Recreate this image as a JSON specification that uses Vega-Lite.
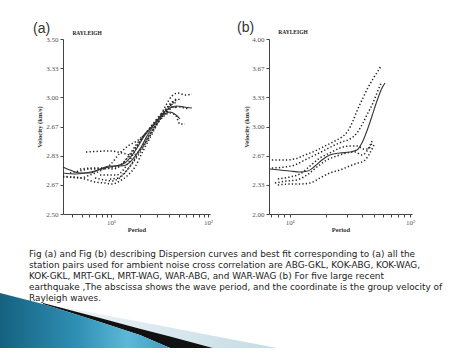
{
  "$schema": "https://vega.github.io/schema/vega-lite/v6.json",
  "background": "white",
  "padding": {"left": 0, "top": 21, "right": 0, "bottom": 0},
  "config": {
    "view": {"stroke": null},
    "axis": {
      "grid": false,
      "domainColor": "#444",
      "tickColor": "#444",
      "labelColor": "#555",
      "labelFont": "Liberation Serif",
      "labelFontSize": 7,
      "titleFont": "Liberation Serif",
      "titleFontSize": 6.5,
      "titleFontWeight": "bold",
      "titleColor": "#333",
      "tickSize": 3,
      "labelPadding": 2,
      "labelOverlap": false
    }
  },
  "datasets": {
    "a": [
      {"c":"D1","s":"obs","p":5.53,"v":2.854},{"c":"D1","s":"obs","p":9.76,"v":2.86},{"c":"D1","s":"obs","p":13.0,"v":2.849},{"c":"D1","s":"obs","p":16.5,"v":2.837},{"c":"D1","s":"obs","p":20.9,"v":2.877},{"c":"D1","s":"obs","p":25.2,"v":2.946},{"c":"D1","s":"obs","p":30.5,"v":3.031},{"c":"D1","s":"obs","p":36.0,"v":3.111},{"c":"D1","s":"obs","p":42.5,"v":3.174},{"c":"D1","s":"obs","p":49.1,"v":3.191},{"c":"D1","s":"obs","p":57.9,"v":3.18},{"c":"D1","s":"obs","p":68.4,"v":3.186},
      {"c":"D2","s":"obs","p":3.2,"v":2.711},{"c":"D2","s":"obs","p":4.25,"v":2.711},{"c":"D2","s":"obs","p":5.39,"v":2.7},{"c":"D2","s":"obs","p":6.84,"v":2.683},{"c":"D2","s":"obs","p":8.67,"v":2.677},{"c":"D2","s":"obs","p":10.24,"v":2.671},{"c":"D2","s":"obs","p":12.4,"v":2.689},{"c":"D2","s":"obs","p":15.0,"v":2.723},{"c":"D2","s":"obs","p":17.7,"v":2.769},{"c":"D2","s":"obs","p":20.9,"v":2.849},{"c":"D2","s":"obs","p":25.2,"v":2.934},{"c":"D2","s":"obs","p":30.5,"v":3.02},{"c":"D2","s":"obs","p":36.0,"v":3.089},{"c":"D2","s":"obs","p":40.6,"v":3.129},{"c":"D2","s":"obs","p":45.7,"v":3.151},
      {"c":"D3","s":"obs","p":4.79,"v":2.757},{"c":"D3","s":"obs","p":6.84,"v":2.763},{"c":"D3","s":"obs","p":8.67,"v":2.763},{"c":"D3","s":"obs","p":10.24,"v":2.757},{"c":"D3","s":"obs","p":12.4,"v":2.774},{"c":"D3","s":"obs","p":15.0,"v":2.826},{"c":"D3","s":"obs","p":18.1,"v":2.894},{"c":"D3","s":"obs","p":22.4,"v":2.957},{"c":"D3","s":"obs","p":26.4,"v":2.997},{"c":"D3","s":"obs","p":32.0,"v":3.049},{"c":"D3","s":"obs","p":37.8,"v":3.089},{"c":"D3","s":"obs","p":42.5,"v":3.111},{"c":"D3","s":"obs","p":49.1,"v":3.106},
      {"c":"D4","s":"obs","p":3.2,"v":2.717},{"c":"D4","s":"obs","p":3.78,"v":2.711},{"c":"D4","s":"obs","p":4.79,"v":2.706},{"c":"D4","s":"obs","p":6.08,"v":2.723},{"c":"D4","s":"obs","p":7.7,"v":2.746},{"c":"D4","s":"obs","p":9.76,"v":2.78},{"c":"D4","s":"obs","p":12.4,"v":2.849},{"c":"D4","s":"obs","p":15.0,"v":2.889},{"c":"D4","s":"obs","p":18.5,"v":2.917},{"c":"D4","s":"obs","p":23.0,"v":2.963},{"c":"D4","s":"obs","p":28.4,"v":3.02},{"c":"D4","s":"obs","p":34.4,"v":3.071},{"c":"D4","s":"obs","p":40.6,"v":3.117},{"c":"D4","s":"obs","p":47.9,"v":3.14},
      {"c":"D5","s":"obs","p":6.84,"v":2.706},{"c":"D5","s":"obs","p":8.67,"v":2.694},{"c":"D5","s":"obs","p":10.24,"v":2.689},{"c":"D5","s":"obs","p":11.8,"v":2.7},{"c":"D5","s":"obs","p":13.9,"v":2.734},{"c":"D5","s":"obs","p":16.5,"v":2.791},{"c":"D5","s":"obs","p":19.9,"v":2.866},{"c":"D5","s":"obs","p":24.1,"v":2.94},{"c":"D5","s":"obs","p":29.1,"v":3.009},{"c":"D5","s":"obs","p":34.4,"v":3.054},{"c":"D5","s":"obs","p":40.6,"v":3.077},{"c":"D5","s":"obs","p":46.8,"v":3.06},{"c":"D5","s":"obs","p":51.4,"v":3.014},{"c":"D5","s":"obs","p":57.9,"v":3.014},
      {"c":"D6","s":"obs","p":7.7,"v":2.723},{"c":"D6","s":"obs","p":9.76,"v":2.723},{"c":"D6","s":"obs","p":11.5,"v":2.723},{"c":"D6","s":"obs","p":13.6,"v":2.757},{"c":"D6","s":"obs","p":16.1,"v":2.82},{"c":"D6","s":"obs","p":19.0,"v":2.894},{"c":"D6","s":"obs","p":23.0,"v":2.963},{"c":"D6","s":"obs","p":27.7,"v":3.02},{"c":"D6","s":"obs","p":32.8,"v":3.06},{"c":"D6","s":"obs","p":38.7,"v":3.1},{"c":"D6","s":"obs","p":45.7,"v":3.146},{"c":"D6","s":"obs","p":51.4,"v":3.157},
      {"c":"D7","s":"obs","p":9.76,"v":2.7},{"c":"D7","s":"obs","p":11.8,"v":2.706},{"c":"D7","s":"obs","p":14.3,"v":2.746},{"c":"D7","s":"obs","p":17.3,"v":2.803},{"c":"D7","s":"obs","p":20.9,"v":2.871},{"c":"D7","s":"obs","p":25.2,"v":2.957},{"c":"D7","s":"obs","p":30.5,"v":3.026},{"c":"D7","s":"obs","p":36.9,"v":3.077},{"c":"D7","s":"obs","p":44.6,"v":3.111},{"c":"D7","s":"obs","p":51.4,"v":3.111},{"c":"D7","s":"obs","p":62.2,"v":3.1},
      {"c":"D8","s":"obs","p":3.78,"v":2.734},{"c":"D8","s":"obs","p":4.79,"v":2.746},{"c":"D8","s":"obs","p":6.08,"v":2.757},{"c":"D8","s":"obs","p":7.7,"v":2.757},{"c":"D8","s":"obs","p":9.76,"v":2.763},{"c":"D8","s":"obs","p":12.4,"v":2.78},{"c":"D8","s":"obs","p":15.7,"v":2.837},{"c":"D8","s":"obs","p":19.9,"v":2.917},{"c":"D8","s":"obs","p":25.2,"v":2.991},{"c":"D8","s":"obs","p":32.0,"v":3.066},{"c":"D8","s":"obs","p":40.6,"v":3.123},{"c":"D8","s":"obs","p":47.9,"v":3.163},
      {"c":"S1","s":"fit","p":3.2,"v":2.769},{"c":"S1","s":"fit","p":3.78,"v":2.751},{"c":"S1","s":"fit","p":4.79,"v":2.734},{"c":"S1","s":"fit","p":6.08,"v":2.734},{"c":"S1","s":"fit","p":7.7,"v":2.757},{"c":"S1","s":"fit","p":9.76,"v":2.774},{"c":"S1","s":"fit","p":12.4,"v":2.774},{"c":"S1","s":"fit","p":14.3,"v":2.78},{"c":"S1","s":"fit","p":16.5,"v":2.809},{"c":"S1","s":"fit","p":19.9,"v":2.871},{"c":"S1","s":"fit","p":24.1,"v":2.957},{"c":"S1","s":"fit","p":29.1,"v":3.026},{"c":"S1","s":"fit","p":34.4,"v":3.077},{"c":"S1","s":"fit","p":40.6,"v":3.106},{"c":"S1","s":"fit","p":47.9,"v":3.117},{"c":"S1","s":"fit","p":56.6,"v":3.111},{"c":"S1","s":"fit","p":68.4,"v":3.106},
      {"c":"S2","s":"fit","p":3.2,"v":2.734},{"c":"S2","s":"fit","p":4.25,"v":2.729},{"c":"S2","s":"fit","p":5.39,"v":2.734},{"c":"S2","s":"fit","p":6.84,"v":2.746},{"c":"S2","s":"fit","p":8.67,"v":2.763},{"c":"S2","s":"fit","p":11.0,"v":2.774},{"c":"S2","s":"fit","p":13.9,"v":2.791},{"c":"S2","s":"fit","p":17.7,"v":2.86},{"c":"S2","s":"fit","p":22.4,"v":2.951},{"c":"S2","s":"fit","p":28.4,"v":3.02},{"c":"S2","s":"fit","p":34.4,"v":3.066},{"c":"S2","s":"fit","p":40.6,"v":3.083},{"c":"S2","s":"fit","p":46.8,"v":3.066},{"c":"S2","s":"fit","p":51.4,"v":3.043},
      {"c":"label","s":"label","p":4.0,"v":3.535,"t":"RAYLEIGH"}
    ],
    "b": [
      {"c":"D1","s":"obs","p":7.08,"v":2.617},{"c":"D1","s":"obs","p":9.08,"v":2.617},{"c":"D1","s":"obs","p":11.0,"v":2.629},{"c":"D1","s":"obs","p":13.3,"v":2.674},{"c":"D1","s":"obs","p":16.2,"v":2.72},{"c":"D1","s":"obs","p":19.6,"v":2.777},{"c":"D1","s":"obs","p":23.7,"v":2.834},{"c":"D1","s":"obs","p":27.1,"v":2.88},{"c":"D1","s":"obs","p":30.4,"v":2.949},{"c":"D1","s":"obs","p":33.5,"v":3.063},{"c":"D1","s":"obs","p":36.8,"v":3.2},{"c":"D1","s":"obs","p":40.6,"v":3.326},{"c":"D1","s":"obs","p":44.6,"v":3.44},{"c":"D1","s":"obs","p":49.2,"v":3.543},{"c":"D1","s":"obs","p":54.1,"v":3.634},{"c":"D1","s":"obs","p":57.4,"v":3.691},
      {"c":"D2","s":"obs","p":7.08,"v":2.526},{"c":"D2","s":"obs","p":9.08,"v":2.537},{"c":"D2","s":"obs","p":11.0,"v":2.56},{"c":"D2","s":"obs","p":13.3,"v":2.617},{"c":"D2","s":"obs","p":16.2,"v":2.674},{"c":"D2","s":"obs","p":19.6,"v":2.731},{"c":"D2","s":"obs","p":23.7,"v":2.789},{"c":"D2","s":"obs","p":27.1,"v":2.823},{"c":"D2","s":"obs","p":31.6,"v":2.857},{"c":"D2","s":"obs","p":36.2,"v":2.926},{"c":"D2","s":"obs","p":40.6,"v":3.04},{"c":"D2","s":"obs","p":44.6,"v":3.154},{"c":"D2","s":"obs","p":49.2,"v":3.269},{"c":"D2","s":"obs","p":53.1,"v":3.383},{"c":"D2","s":"obs","p":57.4,"v":3.497},
      {"c":"D3","s":"obs","p":7.94,"v":2.4},{"c":"D3","s":"obs","p":10.0,"v":2.423},{"c":"D3","s":"obs","p":12.1,"v":2.457},{"c":"D3","s":"obs","p":14.7,"v":2.549},{"c":"D3","s":"obs","p":17.8,"v":2.64},{"c":"D3","s":"obs","p":21.5,"v":2.697},{"c":"D3","s":"obs","p":26.1,"v":2.754},{"c":"D3","s":"obs","p":31.6,"v":2.777},{"c":"D3","s":"obs","p":36.8,"v":2.777},{"c":"D3","s":"obs","p":40.6,"v":2.743},{"c":"D3","s":"obs","p":44.6,"v":2.743},{"c":"D3","s":"obs","p":48.3,"v":2.811},
      {"c":"D4","s":"obs","p":7.5,"v":2.354},{"c":"D4","s":"obs","p":9.44,"v":2.377},{"c":"D4","s":"obs","p":11.4,"v":2.389},{"c":"D4","s":"obs","p":13.9,"v":2.446},{"c":"D4","s":"obs","p":16.8,"v":2.537},{"c":"D4","s":"obs","p":20.3,"v":2.617},{"c":"D4","s":"obs","p":24.6,"v":2.663},{"c":"D4","s":"obs","p":29.9,"v":2.697},{"c":"D4","s":"obs","p":34.8,"v":2.709},{"c":"D4","s":"obs","p":39.8,"v":2.674},{"c":"D4","s":"obs","p":43.8,"v":2.72},{"c":"D4","s":"obs","p":48.3,"v":2.834},
      {"c":"D5","s":"obs","p":7.94,"v":2.331},{"c":"D5","s":"obs","p":10.0,"v":2.343},{"c":"D5","s":"obs","p":12.1,"v":2.343},{"c":"D5","s":"obs","p":14.7,"v":2.354},{"c":"D5","s":"obs","p":17.8,"v":2.411},{"c":"D5","s":"obs","p":21.5,"v":2.469},{"c":"D5","s":"obs","p":26.1,"v":2.503},{"c":"D5","s":"obs","p":31.6,"v":2.549},{"c":"D5","s":"obs","p":36.8,"v":2.583},{"c":"D5","s":"obs","p":41.4,"v":2.606},{"c":"D5","s":"obs","p":46.4,"v":2.697},{"c":"D5","s":"obs","p":50.1,"v":2.789},
      {"c":"S1","s":"fit","p":6.81,"v":2.514},{"c":"S1","s":"fit","p":8.25,"v":2.503},{"c":"S1","s":"fit","p":10.0,"v":2.491},{"c":"S1","s":"fit","p":12.1,"v":2.48},{"c":"S1","s":"fit","p":14.1,"v":2.491},{"c":"S1","s":"fit","p":16.2,"v":2.549},{"c":"S1","s":"fit","p":18.5,"v":2.617},{"c":"S1","s":"fit","p":21.5,"v":2.674},{"c":"S1","s":"fit","p":26.1,"v":2.697},{"c":"S1","s":"fit","p":31.6,"v":2.709},{"c":"S1","s":"fit","p":36.2,"v":2.731},{"c":"S1","s":"fit","p":39.8,"v":2.811},{"c":"S1","s":"fit","p":43.8,"v":2.949},{"c":"S1","s":"fit","p":48.3,"v":3.12},{"c":"S1","s":"fit","p":53.1,"v":3.291},{"c":"S1","s":"fit","p":58.5,"v":3.44},{"c":"S1","s":"fit","p":62.0,"v":3.497},
      {"c":"label","s":"label","p":8.0,"v":4.075,"t":"RAYLEIGH"}
    ],
    "swoosh": [
      {"part":"teal","x":0,"top":96.5,"bot":0},{"part":"teal","x":9.07,"top":77.2,"bot":0},{"part":"teal","x":21.1,"top":45.6,"bot":0},{"part":"teal","x":29.5,"top":22.8,"bot":0},{"part":"teal","x":35.9,"top":0,"bot":0},
      {"part":"black","x":9.07,"top":78.9,"bot":77.2},{"part":"black","x":21.1,"top":52.5,"bot":45.6},{"part":"black","x":29.5,"top":33.9,"bot":22.8},{"part":"black","x":35.9,"top":20,"bot":0},{"part":"black","x":44.9,"top":0,"bot":0},
      {"part":"light","x":12.66,"top":72.6,"bot":71},{"part":"light","x":21.1,"top":59.3,"bot":52.5},{"part":"light","x":29.5,"top":46,"bot":33.9},{"part":"light","x":35.9,"top":35.8,"bot":20},{"part":"light","x":44.9,"top":21.4,"bot":0},{"part":"light","x":58.4,"top":0,"bot":0}
    ]
  },
  "spacing": 17,
  "vconcat": [
    {
      "bounds": "flush",
      "spacing": 59,
      "hconcat": [
        {"width": 4, "height": 175, "data": {"values": []}, "mark": "point"},
        {
          "width": 147,
          "height": 175,
          "title": {"text": "(a)", "anchor": "start", "frame": "group", "dx": -30, "offset": -5, "fontSize": 14, "font": "Liberation Sans", "fontWeight": "normal", "color": "#333"},
          "data": {"name": "a"},
          "encoding": {
            "x": {"field": "p", "type": "quantitative", "scale": {"type": "log", "domain": [3.2, 105], "nice": false},
                  "axis": {"title": "Period", "values": [4,5,6,7,8,9,10,20,30,40,50,60,70,80,90,100], "labelExpr": "datum.value == 10 ? '10¹' : datum.value == 100 ? '10²' : ''", "labelPadding": 1, "titlePadding": 1}},
            "y": {"field": "v", "type": "quantitative", "scale": {"domain": [2.5, 3.5], "nice": false, "zero": false},
                  "axis": {"title": "Velocity (km/s)", "values": [2.5, 2.6667, 2.8333, 3.0, 3.1667, 3.3333, 3.5], "labelExpr": "datum.value > 3.4 ? '3.50' : datum.value > 3.25 ? '3.33' : datum.value > 3.1 ? '3.00' : datum.value > 2.9 ? '2.67' : datum.value > 2.75 ? '2.83' : datum.value > 2.6 ? '2.67' : '2.50'", "titlePadding": 3}}
          },
          "layer": [
            {"transform": [{"filter": "datum.s == 'obs'"}],
             "mark": {"type": "line", "strokeDash": [1.3, 2.2], "strokeWidth": 1.5, "color": "#222", "interpolate": "monotone"},
             "encoding": {"detail": {"field": "c"}}},
            {"transform": [{"filter": "datum.s == 'fit'"}],
             "mark": {"type": "line", "strokeWidth": 1.1, "color": "#333", "interpolate": "monotone"},
             "encoding": {"detail": {"field": "c"}}},
            {"transform": [{"filter": "datum.s == 'label'"}],
             "mark": {"type": "text", "align": "left", "baseline": "middle", "font": "Liberation Serif", "fontWeight": "bold", "fontSize": 5.5, "fill": "#222", "opacity": 1},
             "encoding": {"text": {"field": "t", "type": "nominal"}}}
          ]
        },
        {
          "width": 143,
          "height": 175,
          "title": {"text": "(b)", "anchor": "start", "frame": "group", "dx": -32, "offset": -5, "fontSize": 14, "font": "Liberation Sans", "fontWeight": "normal", "color": "#333"},
          "data": {"name": "b"},
          "encoding": {
            "x": {"field": "p", "type": "quantitative", "scale": {"type": "log", "domain": [6.7, 104], "nice": false},
                  "axis": {"title": "Period", "values": [7,8,9,10,20,30,40,50,60,70,80,90,100], "labelExpr": "datum.value == 10 ? '10¹' : datum.value == 100 ? '10²' : ''", "labelPadding": 1, "titlePadding": 1}},
            "y": {"field": "v", "type": "quantitative", "scale": {"domain": [2.0, 4.0], "nice": false, "zero": false},
                  "axis": {"title": "Velocity (km/s)", "values": [2.0, 2.3333, 2.6667, 3.0, 3.3333, 3.6667, 4.0], "format": ".2f", "titlePadding": 2}}
          },
          "layer": [
            {"transform": [{"filter": "datum.s == 'obs'"}],
             "mark": {"type": "line", "strokeDash": [1.3, 2.2], "strokeWidth": 1.5, "color": "#222", "interpolate": "monotone"},
             "encoding": {"detail": {"field": "c"}}},
            {"transform": [{"filter": "datum.s == 'fit'"}],
             "mark": {"type": "line", "strokeWidth": 1.1, "color": "#333", "interpolate": "monotone"},
             "encoding": {"detail": {"field": "c"}}},
            {"transform": [{"filter": "datum.s == 'label'"}],
             "mark": {"type": "text", "align": "left", "baseline": "middle", "font": "Liberation Serif", "fontWeight": "bold", "fontSize": 5.5, "fill": "#222", "opacity": 1},
             "encoding": {"text": {"field": "t", "type": "nominal"}}}
          ]
        }
      ]
    },
    {
      "width": 474,
      "height": 57,
      "title": {
        "text": [
          " Fig (a) and Fig (b) describing Dispersion curves and best fit corresponding to (a) all the",
          "station pairs used for ambient noise cross correlation are ABG-GKL, KOK-ABG, KOK-WAG,",
          "KOK-GKL, MRT-GKL, MRT-WAG, WAR-ABG, and WAR-WAG (b) For five large recent",
          "earthquake ,The abscissa shows the wave period, and the coordinate is the group velocity of",
          "Rayleigh waves."
        ],
        "anchor": "start", "frame": "group", "dx": 29, "offset": -12,
        "fontSize": 8.9, "font": "DejaVu Sans", "fontWeight": "normal", "lineHeight": 11, "color": "#222"
      },
      "data": {"name": "swoosh"},
      "encoding": {
        "x": {"field": "x", "type": "quantitative", "scale": {"domain": [0, 100], "nice": false}, "axis": null},
        "y": {"field": "top", "type": "quantitative", "scale": {"domain": [0, 100], "nice": false}, "axis": null},
        "y2": {"field": "bot"}
      },
      "layer": [
        {"transform": [{"filter": "datum.part == 'light'"}],
         "mark": {"type": "area", "color": {"gradient": "linear", "x1": 0, "y1": 0, "x2": 1, "y2": 0, "stops": [{"offset": 0, "color": "#eef5f8"}, {"offset": 1, "color": "#c4dbe4"}]}}},
        {"transform": [{"filter": "datum.part == 'black'"}],
         "mark": {"type": "area", "color": "#111"}},
        {"transform": [{"filter": "datum.part == 'teal'"}],
         "mark": {"type": "area", "color": {"gradient": "linear", "x1": 0, "y1": 0, "x2": 1, "y2": 0, "stops": [{"offset": 0, "color": "#15617f"}, {"offset": 0.45, "color": "#2f8fb4"}, {"offset": 0.75, "color": "#5cb8d7"}, {"offset": 1, "color": "#3d9dc1"}]}}}
      ]
    }
  ]
}
